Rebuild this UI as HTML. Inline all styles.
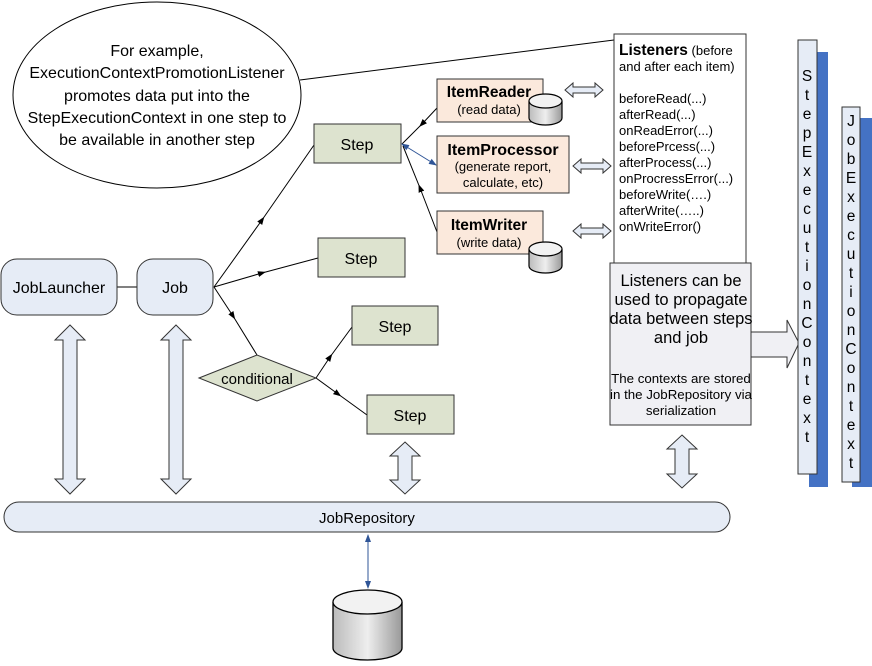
<!DOCTYPE html>
<html><head><meta charset="utf-8"><style>
body{margin:0;background:#fff;}
svg text{font-family:"Liberation Sans",Arial,sans-serif;}
</style></head><body>
<svg width="872" height="661" viewBox="0 0 872 661" xmlns="http://www.w3.org/2000/svg">
<defs>
<marker id="ah" markerWidth="8" markerHeight="8" refX="4" refY="4" orient="auto" markerUnits="userSpaceOnUse"><path d="M0,1 L8,4 L0,7 z" fill="#000"/></marker>
<marker id="bh" markerWidth="8" markerHeight="8" refX="7" refY="4" orient="auto" markerUnits="userSpaceOnUse"><path d="M0,1 L8,4 L0,7 z" fill="#2f5597"/></marker>
<marker id="bs" markerWidth="8" markerHeight="8" refX="1" refY="4" orient="auto" markerUnits="userSpaceOnUse"><path d="M8,1 L0,4 L8,7 z" fill="#2f5597"/></marker>
<linearGradient id="cyl" x1="0" x2="1"><stop offset="0" stop-color="#bbb"/><stop offset="0.5" stop-color="#eee"/><stop offset="1" stop-color="#999"/></linearGradient>
</defs>
<g stroke="#000" stroke-width="1" fill="none">
<ellipse cx="157" cy="95" rx="144" ry="93" fill="#fff"/>
<line x1="300" y1="80" x2="614" y2="40"/>
<polyline points="214,287 262,220 314,145" marker-mid="url(#ah)"/>
<polyline points="214,287 262,273 318,258" marker-mid="url(#ah)"/>
<polyline points="214,287 233,316 257,355" marker-mid="url(#ah)"/>
<polyline points="316,378 330,357 352,327" marker-mid="url(#ah)"/>
<polyline points="316,378 338,394 367,415" marker-mid="url(#ah)"/>
<line x1="117" y1="287" x2="137" y2="287"/>
<polyline points="437,108 422,124 402,144" marker-mid="url(#ah)"/>
<line x1="402" y1="144" x2="436" y2="165" stroke="#2f5597" marker-start="url(#bs)" marker-end="url(#bh)"/>
<polyline points="437,232 420,188 403,146" marker-mid="url(#ah)"/>
</g>
<g fill="#e6ecf6" stroke="#333" stroke-width="1">
<path d="M70,325 L85,340 L77,340 L77,479 L85,479 L70,494 L55,479 L63,479 L63,340 L55,340 Z"/>
<path d="M176,325 L191,340 L183,340 L183,479 L191,479 L176,494 L161,479 L169,479 L169,340 L161,340 Z"/>
<path d="M405,442 L420,456 L412,456 L412,480 L420,480 L405,494 L390,480 L398,480 L398,456 L390,456 Z"/>
<path d="M682,435 L697,449 L689,449 L689,474 L697,474 L682,488 L667,474 L675,474 L675,449 L667,449 Z"/>
<path d="M565,90 L573,83 L573,87 L595,87 L595,83 L603,90 L595,97 L595,93 L573,93 L573,97 Z"/>
<path d="M573,166 L581,159 L581,163 L603,163 L603,159 L611,166 L603,173 L603,169 L581,169 L581,173 Z"/>
<path d="M573,231 L581,224 L581,228 L603,228 L603,224 L611,231 L603,238 L603,234 L581,234 L581,238 Z"/>
</g>
<rect x="4" y="502" width="726" height="30" rx="15" fill="#e6ecf6" stroke="#333"/>
<text x="367" y="523" font-size="15" text-anchor="middle">JobRepository</text>
<line x1="368" y1="535" x2="368" y2="588" stroke="#2f5597" marker-start="url(#bs)" marker-end="url(#bh)"/>
<g stroke="#000" stroke-width="1.3">
<path d="M333,602 L333,648 A34.5,12 0 0 0 402,648 L402,602" fill="url(#cyl)"/>
<ellipse cx="367.5" cy="602" rx="34.5" ry="12" fill="#f2f2f2"/>
</g>
<rect x="1" y="259" width="116" height="56" rx="16" fill="#e6ecf6" stroke="#333"/>
<text x="59" y="293" font-size="16" text-anchor="middle">JobLauncher</text>
<rect x="137" y="259" width="76" height="56" rx="16" fill="#e6ecf6" stroke="#333"/>
<text x="175" y="293" font-size="16" text-anchor="middle">Job</text>
<g fill="#dde3cf" stroke="#333">
<rect x="314" y="124" width="87" height="39"/>
<rect x="318" y="238" width="87" height="39"/>
<rect x="352" y="306" width="86" height="39"/>
<rect x="367" y="395" width="87" height="39"/>
<polygon points="199,378 257,355 316,378 257,401"/>
</g>
<g font-size="16" text-anchor="middle">
<text x="357" y="150">Step</text>
<text x="361" y="264">Step</text>
<text x="395" y="332">Step</text>
<text x="410" y="421">Step</text>
<text x="257" y="384" font-size="15">conditional</text>
</g>
<g fill="#fbe9dc" stroke="#333">
<rect x="437" y="79" width="106" height="43"/>
<rect x="437" y="136" width="132" height="57"/>
<rect x="437" y="211" width="106" height="43"/>
</g>
<g text-anchor="middle">
<text x="489" y="97" font-size="15.5" font-weight="bold">ItemReader</text>
<text x="489" y="114" font-size="13">(read data)</text>
<text x="503" y="155" font-size="16" font-weight="bold">ItemProcessor</text>
<text x="503" y="171" font-size="13">(generate report,</text>
<text x="503" y="187" font-size="13">calculate, etc)</text>
<text x="489" y="230" font-size="15.5" font-weight="bold">ItemWriter</text>
<text x="489" y="247" font-size="13">(write data)</text>
</g>
<g stroke="#000" stroke-width="1.2">
<path d="M529,101 L529,118 A16.5,7 0 0 0 562,118 L562,101" fill="url(#cyl)"/>
<ellipse cx="545.5" cy="101" rx="16.5" ry="7" fill="#f2f2f2"/>
<path d="M529,249 L529,266 A16.5,7 0 0 0 562,266 L562,249" fill="url(#cyl)"/>
<ellipse cx="545.5" cy="249" rx="16.5" ry="7" fill="#f2f2f2"/>
</g>
<rect x="614" y="34" width="132" height="230" fill="#fff" stroke="#333"/>
<text x="619" y="55" font-size="15.5"><tspan font-weight="bold">Listeners</tspan><tspan font-size="13"> (before</tspan></text>
<text x="619" y="71" font-size="13">and after each item)</text>
<g font-size="13">
<text x="619" y="103">beforeRead(...)</text>
<text x="619" y="119">afterRead(...)</text>
<text x="619" y="135">onReadError(...)</text>
<text x="619" y="151">beforePrcess(...)</text>
<text x="619" y="167">afterProcess(...)</text>
<text x="619" y="183">onProcressError(...)</text>
<text x="619" y="199">beforeWrite(….)</text>
<text x="619" y="215">afterWrite(…..)</text>
<text x="619" y="231">onWriteError()</text>
</g>
<path d="M751,332 L787,332 L787,320 L799,343 L787,368 L787,357 L751,357" fill="#f0f0f4" stroke="#333"/>
<rect x="610" y="263" width="141" height="162" fill="#f0f0f4" stroke="#333"/>
<g text-anchor="middle" font-size="16.5">
<text x="681" y="286">Listeners can be</text>
<text x="681" y="305">used to propagate</text>
<text x="681" y="324">data between steps</text>
<text x="681" y="343">and job</text>
</g>
<g text-anchor="middle" font-size="13.3">
<text x="681" y="383">The contexts are stored</text>
<text x="681" y="399">in the JobRepository via</text>
<text x="681" y="415">serialization</text>
</g>
<rect x="809" y="52" width="19" height="435" fill="#4472c4"/>
<rect x="798" y="40" width="19" height="434" fill="#e6ecf6" stroke="#333"/>
<rect x="852" y="118" width="20" height="369" fill="#4472c4"/>
<rect x="842" y="107" width="18" height="375" fill="#e6ecf6" stroke="#333"/>
<g font-size="15.5" text-anchor="middle">
<text x="807" y="81">S</text><text x="807" y="100">t</text><text x="807" y="119">e</text><text x="807" y="138">p</text><text x="807" y="157">E</text><text x="807" y="176">x</text><text x="807" y="195">e</text><text x="807" y="214">c</text><text x="807" y="233">u</text><text x="807" y="252">t</text><text x="807" y="271">i</text><text x="807" y="290">o</text><text x="807" y="309">n</text><text x="807" y="328">C</text><text x="807" y="347">o</text><text x="807" y="366">n</text><text x="807" y="385">t</text><text x="807" y="404">e</text><text x="807" y="423">x</text><text x="807" y="442">t</text>
<text x="851" y="126">J</text><text x="851" y="145">o</text><text x="851" y="164">b</text><text x="851" y="183">E</text><text x="851" y="202">x</text><text x="851" y="221">e</text><text x="851" y="240">c</text><text x="851" y="259">u</text><text x="851" y="278">t</text><text x="851" y="297">i</text><text x="851" y="316">o</text><text x="851" y="335">n</text><text x="851" y="354">C</text><text x="851" y="373">o</text><text x="851" y="392">n</text><text x="851" y="411">t</text><text x="851" y="430">e</text><text x="851" y="449">x</text><text x="851" y="468">t</text>
</g>
<g font-size="16" text-anchor="middle">
<text x="157" y="56">For example,</text>
<text x="157" y="78">ExecutionContextPromotionListener</text>
<text x="157" y="101">promotes data put into the</text>
<text x="157" y="123">StepExecutionContext in one step to</text>
<text x="157" y="145">be available in another step</text>
</g>
</svg>
</body></html>
